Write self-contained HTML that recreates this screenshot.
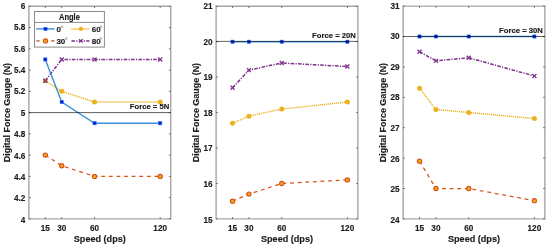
<!DOCTYPE html>
<html><head><meta charset="utf-8"><style>
html,body{margin:0;padding:0;background:#fff;width:550px;height:248px;overflow:hidden}
svg{display:block;will-change:transform}
text{font-family:"Liberation Sans", sans-serif;font-weight:bold;fill:#1c1c1c;stroke:#1c1c1c;stroke-width:0.15px}
.t{font-size:8.2px}
.r{font-size:7.7px;fill:#1a1a1a}
.lab{font-size:9.1px}
.ylab{font-size:8.95px}
.lg{font-size:8px}
.deg{font-size:5px;font-weight:normal}
</style></head><body>
<svg width="550" height="248" viewBox="0 0 550 248">
<path d="M28.90 6.30H170.70V218.90H28.90Z" fill="none" stroke="#a6a6a6" stroke-width="1.4"/>
<path d="M45.31 218.90v-1.8M45.31 6.30v1.8" stroke="#606060" stroke-width="0.9"/>
<text x="45.31" y="230.70" text-anchor="middle" class="t">15</text>
<path d="M61.72 218.90v-1.8M61.72 6.30v1.8" stroke="#606060" stroke-width="0.9"/>
<text x="61.72" y="230.70" text-anchor="middle" class="t">30</text>
<path d="M94.55 218.90v-1.8M94.55 6.30v1.8" stroke="#606060" stroke-width="0.9"/>
<text x="94.55" y="230.70" text-anchor="middle" class="t">60</text>
<path d="M160.20 218.90v-1.8M160.20 6.30v1.8" stroke="#606060" stroke-width="0.9"/>
<text x="160.20" y="230.70" text-anchor="middle" class="t">120</text>
<path d="M28.90 218.90h1.8M170.70 218.90h-1.8" stroke="#606060" stroke-width="0.9"/>
<text x="25.40" y="222.63" text-anchor="end" class="t">4</text>
<path d="M28.90 197.64h1.8M170.70 197.64h-1.8" stroke="#606060" stroke-width="0.9"/>
<text x="25.40" y="201.27" text-anchor="end" class="t">4.2</text>
<path d="M28.90 176.38h1.8M170.70 176.38h-1.8" stroke="#606060" stroke-width="0.9"/>
<text x="25.40" y="179.90" text-anchor="end" class="t">4.4</text>
<path d="M28.90 155.12h1.8M170.70 155.12h-1.8" stroke="#606060" stroke-width="0.9"/>
<text x="25.40" y="158.53" text-anchor="end" class="t">4.6</text>
<path d="M28.90 133.86h1.8M170.70 133.86h-1.8" stroke="#606060" stroke-width="0.9"/>
<text x="25.40" y="137.17" text-anchor="end" class="t">4.8</text>
<path d="M28.90 112.60h1.8M170.70 112.60h-1.8" stroke="#606060" stroke-width="0.9"/>
<text x="25.40" y="115.80" text-anchor="end" class="t">5</text>
<path d="M28.90 91.34h1.8M170.70 91.34h-1.8" stroke="#606060" stroke-width="0.9"/>
<text x="25.40" y="94.43" text-anchor="end" class="t">5.2</text>
<path d="M28.90 70.08h1.8M170.70 70.08h-1.8" stroke="#606060" stroke-width="0.9"/>
<text x="25.40" y="73.07" text-anchor="end" class="t">5.4</text>
<path d="M28.90 48.82h1.8M170.70 48.82h-1.8" stroke="#606060" stroke-width="0.9"/>
<text x="25.40" y="51.70" text-anchor="end" class="t">5.6</text>
<path d="M28.90 27.56h1.8M170.70 27.56h-1.8" stroke="#606060" stroke-width="0.9"/>
<text x="25.40" y="30.33" text-anchor="end" class="t">5.8</text>
<path d="M28.90 6.30h1.8M170.70 6.30h-1.8" stroke="#606060" stroke-width="0.9"/>
<text x="25.40" y="8.97" text-anchor="end" class="t">6</text>
<polyline points="45.31,155.12 61.72,165.75 94.55,176.38 160.20,176.38" fill="none" stroke="#D95319" stroke-width="1.25" stroke-dasharray="3.8 3.8"/>
<polyline points="45.31,80.71 61.72,91.34 94.55,101.97 160.20,101.97" fill="none" stroke="#EDB120" stroke-width="1.4" stroke-dasharray="1.2 0.8"/>
<polyline points="45.31,80.71 61.72,59.45 94.55,59.45 160.20,59.45" fill="none" stroke="#7E2F8E" stroke-width="1.5" stroke-dasharray="3.6 1.3 1.2 1.3"/>
<polyline points="45.31,59.45 61.72,101.97 94.55,123.23 160.20,123.23" fill="none" stroke="#3d8fd6" stroke-width="1.4"/>
<circle cx="45.31" cy="155.12" r="2.1" fill="#EDB120" stroke="#D95319" stroke-width="1.2"/>
<circle cx="61.72" cy="165.75" r="2.1" fill="#EDB120" stroke="#D95319" stroke-width="1.2"/>
<circle cx="94.55" cy="176.38" r="2.1" fill="#EDB120" stroke="#D95319" stroke-width="1.2"/>
<circle cx="160.20" cy="176.38" r="2.1" fill="#EDB120" stroke="#D95319" stroke-width="1.2"/>
<circle cx="45.31" cy="80.71" r="2.5" fill="#EDB120"/>
<circle cx="61.72" cy="91.34" r="2.5" fill="#EDB120"/>
<circle cx="94.55" cy="101.97" r="2.5" fill="#EDB120"/>
<circle cx="160.20" cy="101.97" r="2.5" fill="#EDB120"/>
<path d="M43.31 78.71l4 4M43.31 82.71l4 -4" stroke="#7E2F8E" stroke-width="1.25"/>
<path d="M59.72 57.45l4 4M59.72 61.45l4 -4" stroke="#7E2F8E" stroke-width="1.25"/>
<path d="M92.55 57.45l4 4M92.55 61.45l4 -4" stroke="#7E2F8E" stroke-width="1.25"/>
<path d="M158.20 57.45l4 4M158.20 61.45l4 -4" stroke="#7E2F8E" stroke-width="1.25"/>
<rect x="43.71" y="57.85" width="3.2" height="3.2" fill="#0418c8" stroke="#1f6fff" stroke-width="0.6"/>
<rect x="60.12" y="100.37" width="3.2" height="3.2" fill="#0418c8" stroke="#1f6fff" stroke-width="0.6"/>
<rect x="92.95" y="121.63" width="3.2" height="3.2" fill="#0418c8" stroke="#1f6fff" stroke-width="0.6"/>
<rect x="158.60" y="121.63" width="3.2" height="3.2" fill="#0418c8" stroke="#1f6fff" stroke-width="0.6"/>
<path d="M28.90 112.60H170.70" stroke="#000" stroke-opacity="0.62" stroke-width="1"/>
<text x="169.30" y="109.20" text-anchor="end" class="r">Force = 5N</text>
<text transform="translate(10.00 112.60) rotate(-90)" text-anchor="middle" class="ylab">Digital Force Gauge (N)</text>
<text x="99.80" y="242.2" text-anchor="middle" class="lab">Speed (dps)</text>
<path d="M216.10 6.30H357.90V218.90H216.10Z" fill="none" stroke="#a6a6a6" stroke-width="1.4"/>
<path d="M232.51 218.90v-1.8M232.51 6.30v1.8" stroke="#606060" stroke-width="0.9"/>
<text x="232.51" y="230.70" text-anchor="middle" class="t">15</text>
<path d="M248.92 218.90v-1.8M248.92 6.30v1.8" stroke="#606060" stroke-width="0.9"/>
<text x="248.92" y="230.70" text-anchor="middle" class="t">30</text>
<path d="M281.75 218.90v-1.8M281.75 6.30v1.8" stroke="#606060" stroke-width="0.9"/>
<text x="281.75" y="230.70" text-anchor="middle" class="t">60</text>
<path d="M347.40 218.90v-1.8M347.40 6.30v1.8" stroke="#606060" stroke-width="0.9"/>
<text x="347.40" y="230.70" text-anchor="middle" class="t">120</text>
<path d="M216.10 218.90h1.8M357.90 218.90h-1.8" stroke="#606060" stroke-width="0.9"/>
<text x="212.60" y="222.63" text-anchor="end" class="t">15</text>
<path d="M216.10 183.47h1.8M357.90 183.47h-1.8" stroke="#606060" stroke-width="0.9"/>
<text x="212.60" y="187.02" text-anchor="end" class="t">16</text>
<path d="M216.10 148.03h1.8M357.90 148.03h-1.8" stroke="#606060" stroke-width="0.9"/>
<text x="212.60" y="151.41" text-anchor="end" class="t">17</text>
<path d="M216.10 112.60h1.8M357.90 112.60h-1.8" stroke="#606060" stroke-width="0.9"/>
<text x="212.60" y="115.80" text-anchor="end" class="t">18</text>
<path d="M216.10 77.17h1.8M357.90 77.17h-1.8" stroke="#606060" stroke-width="0.9"/>
<text x="212.60" y="80.19" text-anchor="end" class="t">19</text>
<path d="M216.10 41.73h1.8M357.90 41.73h-1.8" stroke="#606060" stroke-width="0.9"/>
<text x="212.60" y="44.58" text-anchor="end" class="t">20</text>
<path d="M216.10 6.30h1.8M357.90 6.30h-1.8" stroke="#606060" stroke-width="0.9"/>
<text x="212.60" y="8.97" text-anchor="end" class="t">21</text>
<polyline points="232.51,201.18 248.92,194.10 281.75,183.47 347.40,179.92" fill="none" stroke="#D95319" stroke-width="1.25" stroke-dasharray="3.8 3.8"/>
<polyline points="232.51,123.23 248.92,116.14 281.75,109.06 347.40,101.97" fill="none" stroke="#EDB120" stroke-width="1.4" stroke-dasharray="1.2 0.8"/>
<polyline points="232.51,87.80 248.92,70.08 281.75,62.99 347.40,66.54" fill="none" stroke="#7E2F8E" stroke-width="1.5" stroke-dasharray="3.6 1.3 1.2 1.3"/>
<polyline points="232.51,41.73 248.92,41.73 281.75,41.73 347.40,41.73" fill="none" stroke="#3d8fd6" stroke-width="1.4"/>
<circle cx="232.51" cy="201.18" r="2.1" fill="#EDB120" stroke="#D95319" stroke-width="1.2"/>
<circle cx="248.92" cy="194.10" r="2.1" fill="#EDB120" stroke="#D95319" stroke-width="1.2"/>
<circle cx="281.75" cy="183.47" r="2.1" fill="#EDB120" stroke="#D95319" stroke-width="1.2"/>
<circle cx="347.40" cy="179.92" r="2.1" fill="#EDB120" stroke="#D95319" stroke-width="1.2"/>
<circle cx="232.51" cy="123.23" r="2.5" fill="#EDB120"/>
<circle cx="248.92" cy="116.14" r="2.5" fill="#EDB120"/>
<circle cx="281.75" cy="109.06" r="2.5" fill="#EDB120"/>
<circle cx="347.40" cy="101.97" r="2.5" fill="#EDB120"/>
<path d="M230.51 85.80l4 4M230.51 89.80l4 -4" stroke="#7E2F8E" stroke-width="1.25"/>
<path d="M246.92 68.08l4 4M246.92 72.08l4 -4" stroke="#7E2F8E" stroke-width="1.25"/>
<path d="M279.75 60.99l4 4M279.75 64.99l4 -4" stroke="#7E2F8E" stroke-width="1.25"/>
<path d="M345.40 64.54l4 4M345.40 68.54l4 -4" stroke="#7E2F8E" stroke-width="1.25"/>
<rect x="230.91" y="40.13" width="3.2" height="3.2" fill="#0418c8" stroke="#1f6fff" stroke-width="0.6"/>
<rect x="247.32" y="40.13" width="3.2" height="3.2" fill="#0418c8" stroke="#1f6fff" stroke-width="0.6"/>
<rect x="280.15" y="40.13" width="3.2" height="3.2" fill="#0418c8" stroke="#1f6fff" stroke-width="0.6"/>
<rect x="345.80" y="40.13" width="3.2" height="3.2" fill="#0418c8" stroke="#1f6fff" stroke-width="0.6"/>
<path d="M216.10 41.38H357.90" stroke="#000" stroke-opacity="0.62" stroke-width="1"/>
<text x="355.90" y="37.98" text-anchor="end" class="r">Force = 20N</text>
<text transform="translate(199.30 112.60) rotate(-90)" text-anchor="middle" class="ylab">Digital Force Gauge (N)</text>
<text x="287.00" y="242.2" text-anchor="middle" class="lab">Speed (dps)</text>
<path d="M403.10 6.10H544.90V218.90H403.10Z" fill="none" stroke="#a6a6a6" stroke-width="1.4"/>
<path d="M419.51 218.90v-1.8M419.51 6.10v1.8" stroke="#606060" stroke-width="0.9"/>
<text x="419.51" y="230.70" text-anchor="middle" class="t">15</text>
<path d="M435.92 218.90v-1.8M435.92 6.10v1.8" stroke="#606060" stroke-width="0.9"/>
<text x="435.92" y="230.70" text-anchor="middle" class="t">30</text>
<path d="M468.75 218.90v-1.8M468.75 6.10v1.8" stroke="#606060" stroke-width="0.9"/>
<text x="468.75" y="230.70" text-anchor="middle" class="t">60</text>
<path d="M534.40 218.90v-1.8M534.40 6.10v1.8" stroke="#606060" stroke-width="0.9"/>
<text x="534.40" y="230.70" text-anchor="middle" class="t">120</text>
<path d="M403.10 218.90h1.8M544.90 218.90h-1.8" stroke="#606060" stroke-width="0.9"/>
<text x="399.60" y="222.63" text-anchor="end" class="t">24</text>
<path d="M403.10 188.50h1.8M544.90 188.50h-1.8" stroke="#606060" stroke-width="0.9"/>
<text x="399.60" y="192.08" text-anchor="end" class="t">25</text>
<path d="M403.10 158.10h1.8M544.90 158.10h-1.8" stroke="#606060" stroke-width="0.9"/>
<text x="399.60" y="161.53" text-anchor="end" class="t">26</text>
<path d="M403.10 127.70h1.8M544.90 127.70h-1.8" stroke="#606060" stroke-width="0.9"/>
<text x="399.60" y="130.98" text-anchor="end" class="t">27</text>
<path d="M403.10 97.30h1.8M544.90 97.30h-1.8" stroke="#606060" stroke-width="0.9"/>
<text x="399.60" y="100.42" text-anchor="end" class="t">28</text>
<path d="M403.10 66.90h1.8M544.90 66.90h-1.8" stroke="#606060" stroke-width="0.9"/>
<text x="399.60" y="69.87" text-anchor="end" class="t">29</text>
<path d="M403.10 36.50h1.8M544.90 36.50h-1.8" stroke="#606060" stroke-width="0.9"/>
<text x="399.60" y="39.32" text-anchor="end" class="t">30</text>
<path d="M403.10 6.10h1.8M544.90 6.10h-1.8" stroke="#606060" stroke-width="0.9"/>
<text x="399.60" y="8.77" text-anchor="end" class="t">31</text>
<polyline points="419.51,161.14 435.92,188.50 468.75,188.50 534.40,200.66" fill="none" stroke="#D95319" stroke-width="1.25" stroke-dasharray="3.8 3.8"/>
<polyline points="419.51,88.18 435.92,109.46 468.75,112.50 534.40,118.58" fill="none" stroke="#EDB120" stroke-width="1.4" stroke-dasharray="1.2 0.8"/>
<polyline points="419.51,51.70 435.92,60.82 468.75,57.78 534.40,76.02" fill="none" stroke="#7E2F8E" stroke-width="1.5" stroke-dasharray="3.6 1.3 1.2 1.3"/>
<polyline points="419.51,36.50 435.92,36.50 468.75,36.50 534.40,36.50" fill="none" stroke="#3d8fd6" stroke-width="1.4"/>
<circle cx="419.51" cy="161.14" r="2.1" fill="#EDB120" stroke="#D95319" stroke-width="1.2"/>
<circle cx="435.92" cy="188.50" r="2.1" fill="#EDB120" stroke="#D95319" stroke-width="1.2"/>
<circle cx="468.75" cy="188.50" r="2.1" fill="#EDB120" stroke="#D95319" stroke-width="1.2"/>
<circle cx="534.40" cy="200.66" r="2.1" fill="#EDB120" stroke="#D95319" stroke-width="1.2"/>
<circle cx="419.51" cy="88.18" r="2.5" fill="#EDB120"/>
<circle cx="435.92" cy="109.46" r="2.5" fill="#EDB120"/>
<circle cx="468.75" cy="112.50" r="2.5" fill="#EDB120"/>
<circle cx="534.40" cy="118.58" r="2.5" fill="#EDB120"/>
<path d="M417.51 49.70l4 4M417.51 53.70l4 -4" stroke="#7E2F8E" stroke-width="1.25"/>
<path d="M433.92 58.82l4 4M433.92 62.82l4 -4" stroke="#7E2F8E" stroke-width="1.25"/>
<path d="M466.75 55.78l4 4M466.75 59.78l4 -4" stroke="#7E2F8E" stroke-width="1.25"/>
<path d="M532.40 74.02l4 4M532.40 78.02l4 -4" stroke="#7E2F8E" stroke-width="1.25"/>
<rect x="417.91" y="34.90" width="3.2" height="3.2" fill="#0418c8" stroke="#1f6fff" stroke-width="0.6"/>
<rect x="434.32" y="34.90" width="3.2" height="3.2" fill="#0418c8" stroke="#1f6fff" stroke-width="0.6"/>
<rect x="467.15" y="34.90" width="3.2" height="3.2" fill="#0418c8" stroke="#1f6fff" stroke-width="0.6"/>
<rect x="532.80" y="34.90" width="3.2" height="3.2" fill="#0418c8" stroke="#1f6fff" stroke-width="0.6"/>
<path d="M403.10 36.50H544.90" stroke="#000" stroke-opacity="0.62" stroke-width="1"/>
<text x="542.90" y="33.10" text-anchor="end" class="r">Force = 30N</text>
<text transform="translate(386.30 112.60) rotate(-90)" text-anchor="middle" class="ylab">Digital Force Gauge (N)</text>
<text x="474.00" y="242.2" text-anchor="middle" class="lab">Speed (dps)</text>
<rect x="34.5" y="11.5" width="69.90" height="35.60" fill="#fff" stroke="#8a8a8a" stroke-width="1"/>
<path d="M34.5 22.4H104.4" stroke="#8a8a8a" stroke-width="1"/>
<text x="69.45" y="19.8" text-anchor="middle" class="t" textLength="20.9" lengthAdjust="spacingAndGlyphs">Angle</text>
<path d="M36.2 28.9H54.7" stroke="#3d8fd6" stroke-width="1.4"/>
<rect x="43.9" y="27.299999999999997" width="3.2" height="3.2" fill="#0418c8" stroke="#1f6fff" stroke-width="0.6"/>
<text x="56.4" y="32.3" class="lg">0</text>
<path d="M36.2 40.9H54.7" stroke="#D95319" stroke-width="1.3" stroke-dasharray="3.5 11.3 3.7"/>
<circle cx="45.5" cy="40.9" r="2.1" fill="#EDB120" stroke="#D95319" stroke-width="1.2"/>
<text x="56.4" y="44.2" class="lg">30</text>
<path d="M71.4 28.9H89.5" stroke="#EDB120" stroke-width="1.5" stroke-dasharray="1.3 0.7"/>
<circle cx="80.9" cy="28.9" r="2.1" fill="#EDB120"/>
<text x="91.7" y="32.3" class="lg">60</text>
<path d="M71.4 40.9H89.5" stroke="#7E2F8E" stroke-width="1.5" stroke-dasharray="3.6 1.3 1.2 1.3"/>
<path d="M79.10000000000001 39.1l3.6 3.6M79.10000000000001 42.699999999999996l3.6 -3.6" stroke="#7E2F8E" stroke-width="1.2"/>
<text x="91.7" y="44.2" class="lg">80</text>
<circle cx="61.9" cy="26.8" r="0.85" fill="none" stroke="#666" stroke-width="0.55"/>
<circle cx="66.3" cy="38.6" r="0.85" fill="none" stroke="#666" stroke-width="0.55"/>
<circle cx="100.8" cy="26.7" r="0.85" fill="none" stroke="#666" stroke-width="0.55"/>
<circle cx="100.8" cy="38.5" r="0.85" fill="none" stroke="#666" stroke-width="0.55"/>
</svg>
</body></html>
